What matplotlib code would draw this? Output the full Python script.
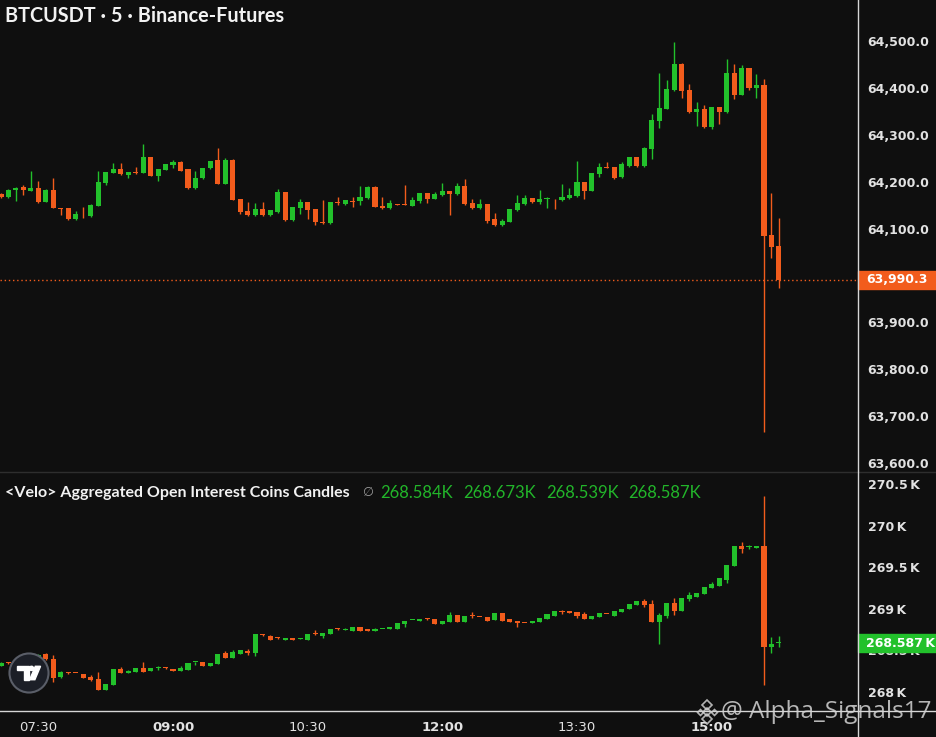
# BTCUSDT 5m candles with aggregated open interest pane

import pandas as pd
import numpy as np
import matplotlib
matplotlib.use("Agg")
from matplotlib import pyplot as plt
from matplotlib.lines import Line2D
from matplotlib.patches import Circle, Polygon, Rectangle
from matplotlib.transforms import blended_transform_factory

# Colors
BG = "#0f0f0f"
UP = "#22c12b"
DOWN = "#f25c1c"
TEXT = "#e2e2e2"

# Price candles (BTCUSDT, 5 min, from 07:05)
price_open = [64173, 64167, 64182, 64189, 64180, 64186, 64156, 64182, 64144, 64143,
              64120, 64132, 64126, 64148, 64197, 64218, 64227, 64214, 64221, 64218,
              64252, 64212, 64225, 64235, 64241, 64227, 64186, 64207, 64229, 64246,
              64195, 64246, 64162, 64137, 64128, 64141, 64128, 64135, 64177, 64118,
              64143, 64156, 64141, 64115, 64111, 64157, 64152, 64159, 64158, 64165,
              64189, 64148, 64143, 64153, 64152, 64148, 64158, 64175, 64162, 64171,
              64180, 64173, 64191, 64154, 64143, 64152, 64120, 64107, 64114, 64139,
              64152, 64165, 64156, 64163, 64163, 64160, 64165, 64169, 64199, 64180,
              64216, 64232, 64231, 64209, 64233, 64252, 64233, 64270, 64329, 64355,
              64395, 64451, 64395, 64348, 64355, 64316, 64359, 64348, 64432, 64385,
              64442, 64399, 64406, 64086, 64062]
price_high = [64175, 64184, 64188, 64193, 64223, 64201, 64184, 64207, 64144, 64143,
              64137, 64145, 64152, 64223, 64221, 64239, 64239, 64221, 64231, 64280,
              64253, 64228, 64238, 64246, 64243, 64228, 64223, 64230, 64245, 64272,
              64250, 64248, 64162, 64156, 64154, 64156, 64140, 64184, 64178, 64146,
              64162, 64157, 64142, 64160, 64157, 64167, 64161, 64167, 64191, 64190,
              64190, 64167, 64160, 64153, 64193, 64167, 64176, 64176, 64177, 64197,
              64181, 64197, 64205, 64162, 64162, 64153, 64133, 64120, 64142, 64171,
              64171, 64166, 64182, 64167, 64163, 64195, 64186, 64244, 64200, 64219,
              64240, 64241, 64232, 64241, 64253, 64253, 64273, 64344, 64432, 64417,
              64497, 64452, 64408, 64370, 64363, 64360, 64360, 64462, 64451, 64449,
              64443, 64430, 64419, 64176, 64122]
price_low = [64165, 64165, 64158, 64171, 64180, 64154, 64156, 64143, 64128, 64118,
             64118, 64122, 64125, 64148, 64193, 64218, 64215, 64207, 64216, 64218,
             64211, 64201, 64224, 64229, 64222, 64185, 64185, 64206, 64228, 64194,
             64195, 64160, 64131, 64127, 64127, 64127, 64127, 64134, 64117, 64117,
             64130, 64120, 64107, 64110, 64110, 64150, 64151, 64145, 64150, 64164,
             64145, 64142, 64142, 64150, 64150, 64147, 64154, 64154, 64162, 64170,
             64128, 64172, 64151, 64142, 64142, 64111, 64106, 64106, 64113, 64138,
             64151, 64155, 64152, 64143, 64141, 64159, 64164, 64168, 64162, 64179,
             64209, 64229, 64206, 64208, 64232, 64232, 64232, 64248, 64314, 64354,
             64394, 64378, 64347, 64318, 64315, 64312, 64322, 64347, 64376, 64384,
             64395, 64378, 63666, 64037, 63973]
price_close = [64167, 64182, 64186, 64182, 64186, 64156, 64182, 64143, 64142, 64120,
               64131, 64130, 64150, 64199, 64220, 64227, 64216, 64220, 64219, 64252,
               64212, 64227, 64237, 64241, 64223, 64186, 64207, 64229, 64244, 64195,
               64246, 64160, 64135, 64128, 64141, 64128, 64139, 64177, 64118, 64145,
               64156, 64139, 64113, 64111, 64156, 64155, 64160, 64157, 64167, 64189,
               64146, 64143, 64154, 64151, 64150, 64160, 64175, 64162, 64173, 64180,
               64173, 64191, 64152, 64143, 64152, 64116, 64107, 64116, 64141, 64154,
               64165, 64156, 64162, 64165, 64162, 64167, 64171, 64199, 64180, 64218,
               64231, 64230, 64207, 64237, 64252, 64233, 64272, 64331, 64357, 64397,
               64451, 64393, 64348, 64355, 64316, 64359, 64348, 64432, 64385, 64442,
               64399, 64406, 64084, 64060, 63990.3]

# Aggregated open interest candles (thousand coins)
oi_open = [268.313, 268.352, 268.346, 268.370, 268.360, 268.400, 268.457, 268.397, 268.180, 268.232,
           268.228, 268.216, 268.180, 268.156, 268.024, 268.084, 268.277, 268.228, 268.240, 268.289,
           268.253, 268.285, 268.290, 268.277, 268.253, 268.265, 268.355, 268.361, 268.313, 268.337,
           268.469, 268.409, 268.457, 268.493, 268.469, 268.688, 268.673, 268.652, 268.625, 268.649,
           268.640, 268.625, 268.700, 268.673, 268.697, 268.760, 268.745, 268.733, 268.781, 268.757,
           268.733, 268.755, 268.757, 268.757, 268.817, 268.863, 268.853, 268.880, 268.877, 268.817,
           268.841, 268.926, 268.841, 268.915, 268.903, 268.901, 268.865, 268.950, 268.877, 268.853,
           268.831, 268.829, 268.841, 268.877, 268.913, 268.965, 268.974, 268.962, 268.938, 268.877,
           268.901, 268.940, 268.913, 268.962, 268.998, 269.046, 269.094, 269.058, 268.841, 268.913,
           269.070, 268.974, 269.118, 269.142, 269.178, 269.250, 269.274, 269.346, 269.514, 269.755,
           269.740, 269.731, 269.755, 268.541, 268.584]
oi_high = [268.355, 268.360, 268.380, 268.375, 268.410, 268.455, 268.470, 268.445, 268.253, 268.245,
           268.228, 268.220, 268.205, 268.240, 268.100, 268.280, 268.300, 268.260, 268.290, 268.361,
           268.290, 268.310, 268.300, 268.280, 268.310, 268.350, 268.362, 268.365, 268.350, 268.460,
           268.493, 268.505, 268.510, 268.520, 268.700, 268.695, 268.680, 268.660, 268.655, 268.655,
           268.655, 268.700, 268.745, 268.715, 268.760, 268.765, 268.770, 268.785, 268.785, 268.760,
           268.770, 268.760, 268.785, 268.830, 268.855, 268.870, 268.880, 268.885, 268.880, 268.855,
           268.962, 268.930, 268.915, 268.962, 268.905, 268.905, 268.955, 268.955, 268.880, 268.855,
           268.832, 268.855, 268.890, 268.940, 268.975, 268.985, 268.975, 268.965, 268.962, 268.915,
           268.955, 268.942, 268.975, 269.000, 269.060, 269.095, 269.118, 269.106, 268.950, 269.075,
           269.130, 269.135, 269.202, 269.195, 269.265, 269.322, 269.375, 269.530, 269.760, 269.803,
           269.767, 269.760, 270.356, 268.661, 268.673]
oi_low = [268.310, 268.340, 268.340, 268.355, 268.355, 268.395, 268.390, 268.120, 268.168, 268.215,
          268.224, 268.165, 268.135, 268.020, 268.020, 268.080, 268.225, 268.225, 268.240, 268.235,
          268.250, 268.265, 268.275, 268.250, 268.250, 268.260, 268.325, 268.310, 268.310, 268.335,
          268.405, 268.405, 268.455, 268.445, 268.433, 268.675, 268.620, 268.640, 268.620, 268.620,
          268.635, 268.620, 268.690, 268.649, 268.695, 268.745, 268.745, 268.730, 268.730, 268.730,
          268.730, 268.755, 268.755, 268.755, 268.781, 268.860, 268.850, 268.870, 268.815, 268.815,
          268.840, 268.840, 268.840, 268.889, 268.898, 268.850, 268.860, 268.850, 268.840, 268.781,
          268.826, 268.825, 268.840, 268.875, 268.910, 268.940, 268.945, 268.889, 268.875, 268.875,
          268.900, 268.935, 268.910, 268.960, 268.995, 269.045, 269.020, 268.840, 268.577, 268.889,
          268.926, 268.970, 269.094, 269.140, 269.175, 269.245, 269.270, 269.310, 269.510, 269.671,
          269.719, 269.730, 268.084, 268.469, 268.539]
oi_close = [268.349, 268.346, 268.370, 268.360, 268.400, 268.450, 268.397, 268.168, 268.240, 268.226,
            268.224, 268.168, 268.144, 268.024, 268.096, 268.277, 268.228, 268.253, 268.289, 268.240,
            268.289, 268.290, 268.285, 268.253, 268.289, 268.349, 268.361, 268.313, 268.349, 268.457,
            268.409, 268.481, 268.505, 268.469, 268.697, 268.682, 268.625, 268.646, 268.649, 268.625,
            268.650, 268.697, 268.694, 268.709, 268.757, 268.754, 268.757, 268.781, 268.733, 268.733,
            268.757, 268.759, 268.781, 268.829, 268.853, 268.867, 268.877, 268.874, 268.817, 268.853,
            268.926, 268.841, 268.913, 268.910, 268.899, 268.853, 268.950, 268.853, 268.841, 268.829,
            268.827, 268.853, 268.889, 268.938, 268.974, 268.959, 268.950, 268.913, 268.877, 268.913,
            268.950, 268.936, 268.974, 268.998, 269.058, 269.094, 269.046, 268.841, 268.926, 269.070,
            268.974, 269.130, 269.166, 269.190, 269.262, 269.298, 269.370, 269.526, 269.755, 269.719,
            269.745, 269.755, 268.541, 268.577, 268.587]

price_ticks = [63600, 63700, 63800, 63900, 64000, 64100, 64200, 64300, 64400, 64500]
oi_ticks = [268, 268.5, 269, 269.5, 270, 270.5]
times = pd.date_range("2024-01-01 07:05", periods=len(price_open), freq="5min")

W, H = 937, 737


def fx(px):
    return px / W


def fy(py):
    return 1 - py / H


def draw_candles(ax, o, h, l, c, min_body):
    o, h, l, c = map(np.asarray, (o, h, l, c))
    x = np.arange(len(o))
    colors = np.where(c >= o, UP, DOWN)
    ax.vlines(x, l, h, colors=colors, linewidth=1)
    ax.bar(x, np.maximum(np.abs(c - o), min_body), bottom=np.minimum(o, c),
           width=0.68, color=colors, linewidth=0)


def badge(ax, value, text, color, half_height):
    tr = blended_transform_factory(ax.figure.transFigure, ax.transData)
    ax.add_patch(Rectangle((fx(858), value - half_height), fx(78), 2 * half_height,
                           transform=tr, color=color, clip_on=False, zorder=10))
    ax.text(fx(866), value, text, transform=tr, color="white", fontsize=9,
            fontweight="bold", va="center", ha="left", zorder=11, clip_on=False)


fig = plt.figure(figsize=(W / 100, H / 100), dpi=100, facecolor=BG)
ax1 = fig.add_axes([0, fy(471), fx(858), 471 / H], facecolor=BG)
ax2 = fig.add_axes([0, fy(710), fx(858), 238 / H], facecolor=BG)

for ax in (ax1, ax2):
    for s in ax.spines.values():
        s.set_visible(False)
    ax.set_xlim(-0.13, 114.57)
    ax.yaxis.tick_right()
    ax.tick_params(axis="y", length=0, pad=7, labelcolor=TEXT, labelsize=9)

# Price pane
draw_candles(ax1, price_open, price_high, price_low, price_close, 2.0)
ax1.set_ylim(63582.9, 64587.4)
ax1.axhline(price_close[-1], color=DOWN, linewidth=1, linestyle=(0, (1, 2)))
ax1.set_yticks(price_ticks)
ax1.set_yticklabels([f"{v:,.1f}" for v in price_ticks], fontweight="bold")
ax1.set_xticks([])
badge(ax1, price_close[-1], f"{price_close[-1]:,.1f}", DOWN, 19.2)

# Open interest pane
draw_candles(ax2, oi_open, oi_high, oi_low, oi_close, 0.012)
ax2.set_ylim(267.784, 270.644)
ax2.set_yticks(oi_ticks)
ax2.set_yticklabels([f"{v:g}\u2009K" for v in oi_ticks], fontweight="bold")
badge(ax2, oi_close[-1], f"{oi_close[-1]:.3f}\u2009K", UP, 0.108)

tick_idx = [i for i, t in enumerate(times) if (t.hour * 60 + t.minute) % 90 == 0]
ax2.set_xticks(tick_idx)
ax2.set_xticklabels([times[i].strftime("%H:%M") for i in tick_idx])
ax2.tick_params(axis="x", length=0, pad=8, labelcolor=TEXT, labelsize=9.5)
for i, lab in zip(tick_idx, ax2.get_xticklabels()):
    if times[i].minute == 0:
        lab.set_fontweight("bold")

# Pane borders
fig.add_artist(Line2D([0, 1], [fy(471.5)] * 2, color="#2e2e2e", linewidth=1))
fig.add_artist(Line2D([0, 1], [fy(710.5)] * 2, color="#d6d6d6", linewidth=1))
fig.add_artist(Line2D([fx(858.5)] * 2, [0, 1], color="#d6d6d6", linewidth=1))

# Titles and legend values
fig.text(fx(5), fy(16), "BTCUSDT · 5 · Binance-Futures", color="#f2f2f2",
         fontsize=14.3, fontweight="bold", family="Lato", va="center", ha="left")
fig.text(fx(5), fy(493), "<Velo> Aggregated Open Interest Coins Candles", color="#f2f2f2",
         fontsize=11.5, fontweight="bold", family="Lato", va="center", ha="left")
fig.text(fx(362), fy(493), "\u2205", color="#9a9a9a", fontsize=9,
         family=["DejaVu Sans"], va="center", ha="left")
for xp, v in zip([380, 463, 546, 628], [oi_open[-1], oi_high[-1], oi_low[-1], oi_close[-1]]):
    fig.text(fx(xp), fy(493), f"{v:.3f}K", color="#22b52a", fontsize=12,
             family="Lato", va="center", ha="left")

# TradingView logo
logo = fig.add_axes([fx(8), fy(694), fx(42), 42 / H])
logo.set_xlim(-1, 1)
logo.set_ylim(-1, 1)
logo.set_aspect("equal")
logo.axis("off")
logo.add_patch(Circle((0, 0), 0.93, facecolor="#1c1f27", edgecolor="#5a5e68", linewidth=1.5))
logo.add_patch(Polygon([(-0.55, 0.32), (-0.02, 0.32), (-0.02, -0.32), (-0.22, -0.32),
                        (-0.22, 0.13), (-0.55, 0.13)], color="white"))
logo.add_patch(Circle((0.12, 0.22), 0.1, color="white"))
logo.add_patch(Polygon([(0.3, 0.32), (0.55, 0.32), (0.28, -0.32), (0.03, -0.32)], color="white"))

# Watermark
for dx, dy, ms in [(0, -7, 5), (0, 0, 4), (-7, 0, 3), (7, 0, 3), (0, 7, 5)]:
    fig.add_artist(Line2D([fx(707 + dx)], [fy(712 + dy)], marker="D", markersize=ms,
                          markerfacecolor="none", markeredgecolor="#d0d0d0",
                          markeredgewidth=1.2, linestyle="none", alpha=0.85))
fig.text(fx(721), fy(712), "@ Alpha_Signals17", color="#d4d4d4", alpha=0.85,
         fontsize=17.5, family="Open Sans", va="center", ha="left")

fig.savefig("out.png", dpi=100, facecolor=BG)
plt.close(fig)
